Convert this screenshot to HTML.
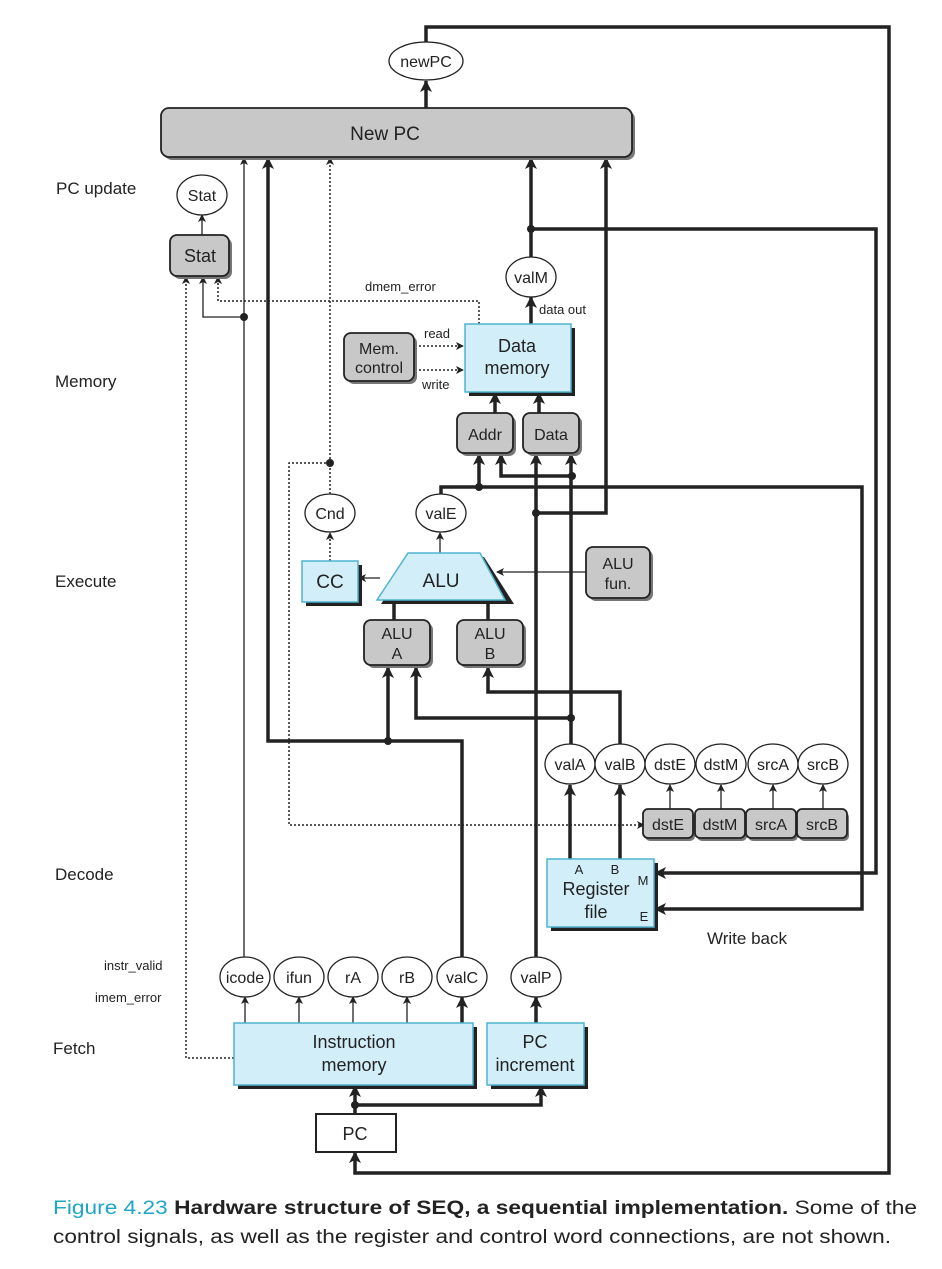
<!DOCTYPE html>
<html><head><meta charset="utf-8"><style>
html,body{margin:0;padding:0;background:#fff;}
svg{display:block;font-family:"Liberation Sans",Arial,sans-serif;}
</style></head><body>
<svg width="942" height="1269" viewBox="0 0 942 1269" xmlns="http://www.w3.org/2000/svg">
<defs>
<marker id="a" markerWidth="8" markerHeight="8" refX="7" refY="4" orient="auto" markerUnits="userSpaceOnUse"><path d="M0,0 L8,4 L0,8 L2,4z" fill="#222"/></marker>
<marker id="b" markerWidth="12" markerHeight="12" refX="11" refY="6" orient="auto" markerUnits="userSpaceOnUse"><path d="M0,0 L12,6 L0,12 L3,6z" fill="#222"/></marker>
</defs>
<rect width="942" height="1269" fill="#fff"/>
<g fill="none" stroke="#222">
<!-- loop -->
<polyline points="426,80 426,27 889,27 889,1173 355,1173 355,1152" stroke-width="3.5" marker-end="url(#b)"/>
<line x1="426" y1="108" x2="426" y2="81" stroke-width="3.5" marker-end="url(#b)"/>
<!-- into New PC -->
<line x1="244" y1="957" x2="244" y2="158" stroke-width="1.3" marker-end="url(#a)"/>
<polyline points="462,957 462,741 268,741 268,158" stroke-width="3.5" marker-end="url(#b)"/>
<line x1="330" y1="463" x2="330" y2="158" stroke-width="1.5" stroke-dasharray="2,2" marker-end="url(#a)"/>
<line x1="531" y1="258" x2="531" y2="158" stroke-width="3.5" marker-end="url(#b)"/>
<polyline points="536,513 606,513 606,158" stroke-width="3.5" marker-end="url(#b)"/>
<!-- stat -->
<line x1="202" y1="235" x2="202" y2="215" stroke-width="1.3" marker-end="url(#a)"/>
<polyline points="244,317 203,317 203,277" stroke-width="1.3" marker-end="url(#a)"/>
<polyline points="234,1058 186,1058 186,277" stroke-width="1.5" stroke-dasharray="2,2" marker-end="url(#a)"/>
<polyline points="479,324 479,301 218,301 218,277" stroke-width="1.5" stroke-dasharray="2,2" marker-end="url(#a)"/>
<!-- valM -->
<line x1="531" y1="324" x2="531" y2="297" stroke-width="3.5" marker-end="url(#b)"/>
<polyline points="531,229 876,229 876,873 655,873" stroke-width="3.5" marker-end="url(#b)"/>
<!-- mem control -->
<line x1="415" y1="346" x2="463" y2="346" stroke-width="1.5" stroke-dasharray="2,2" marker-end="url(#a)"/>
<line x1="415" y1="370" x2="463" y2="370" stroke-width="1.5" stroke-dasharray="2,2" marker-end="url(#a)"/>
<!-- addr/data -->
<line x1="495" y1="413" x2="495" y2="393" stroke-width="3.5" marker-end="url(#b)"/>
<line x1="539" y1="413" x2="539" y2="393" stroke-width="3.5" marker-end="url(#b)"/>
<polyline points="441,494 441,487 862,487 862,909 655,909" stroke-width="3.5" marker-end="url(#b)"/>
<line x1="479" y1="487" x2="479" y2="454" stroke-width="3.5" marker-end="url(#b)"/>
<polyline points="572,476 501,476 501,454" stroke-width="3.5" marker-end="url(#b)"/>
<line x1="536" y1="957" x2="536" y2="454" stroke-width="3.5" marker-end="url(#b)"/>
<line x1="571" y1="744" x2="571" y2="454" stroke-width="3.5" marker-end="url(#b)"/>
<!-- ALU -->
<line x1="440" y1="553" x2="440" y2="533" stroke-width="1.3" marker-end="url(#a)"/>
<line x1="380" y1="578" x2="359" y2="578" stroke-width="1.3" marker-end="url(#a)"/>
<line x1="586" y1="572" x2="497" y2="572" stroke-width="1.3" marker-end="url(#a)"/>
<line x1="330" y1="561" x2="330" y2="533" stroke-width="1.5" stroke-dasharray="2,2" marker-end="url(#a)"/>
<line x1="330" y1="494" x2="330" y2="463" stroke-width="1.5" stroke-dasharray="2,2"/>
<polyline points="330,463 289,463 289,825 644,825" stroke-width="1.5" stroke-dasharray="2,2" marker-end="url(#a)"/>
<line x1="394" y1="601" x2="394" y2="620" stroke-width="3.5"/>
<line x1="488" y1="601" x2="488" y2="620" stroke-width="3.5"/>
<line x1="388" y1="741" x2="388" y2="667" stroke-width="3.5" marker-end="url(#b)"/>
<polyline points="571,718 416,718 416,667" stroke-width="3.5" marker-end="url(#b)"/>
<polyline points="620,744 620,692 488,692 488,667" stroke-width="3.5" marker-end="url(#b)"/>
<!-- register -->
<line x1="570" y1="859" x2="570" y2="785" stroke-width="3.5" marker-end="url(#b)"/>
<line x1="620" y1="859" x2="620" y2="785" stroke-width="3.5" marker-end="url(#b)"/>
<line x1="670" y1="809" x2="670" y2="785" stroke-width="1.3" marker-end="url(#a)"/>
<line x1="721" y1="809" x2="721" y2="785" stroke-width="1.3" marker-end="url(#a)"/>
<line x1="773" y1="809" x2="773" y2="785" stroke-width="1.3" marker-end="url(#a)"/>
<line x1="823" y1="809" x2="823" y2="785" stroke-width="1.3" marker-end="url(#a)"/>
<!-- fetch -->
<line x1="245" y1="1023" x2="245" y2="997" stroke-width="1.3" marker-end="url(#a)"/>
<line x1="299" y1="1023" x2="299" y2="997" stroke-width="1.3" marker-end="url(#a)"/>
<line x1="353" y1="1023" x2="353" y2="997" stroke-width="1.3" marker-end="url(#a)"/>
<line x1="407" y1="1023" x2="407" y2="997" stroke-width="1.3" marker-end="url(#a)"/>
<line x1="462" y1="1023" x2="462" y2="997" stroke-width="3.5" marker-end="url(#b)"/>
<line x1="536" y1="1023" x2="536" y2="997" stroke-width="3.5" marker-end="url(#b)"/>
<line x1="355" y1="1114" x2="355" y2="1086" stroke-width="3.5" marker-end="url(#b)"/>
<polyline points="355,1105 541,1105 541,1086" stroke-width="3.5" marker-end="url(#b)"/>
</g>
<!-- junction dots -->
<g fill="#222">
<circle cx="244" cy="317" r="4"/><circle cx="531" cy="229" r="4"/><circle cx="330" cy="463" r="4"/>
<circle cx="479" cy="487" r="4"/><circle cx="572" cy="476" r="4"/><circle cx="536" cy="513" r="4"/>
<circle cx="571" cy="718" r="4"/><circle cx="388" cy="741" r="4"/><circle cx="355" cy="1105" r="4"/>
</g>
<!-- gray boxes -->
<g stroke="#222" stroke-width="1.8">
<rect x="164" y="111" width="471" height="49" rx="8" fill="#777" stroke="none"/>
<rect x="161" y="108" width="471" height="49" rx="8" fill="#c8c8c8"/>
<rect x="173" y="238" width="59" height="41" rx="7" fill="#777" stroke="none"/>
<rect x="170" y="235" width="59" height="41" rx="7" fill="#c8c8c8"/>
<rect x="347" y="336" width="70" height="48" rx="7" fill="#777" stroke="none"/>
<rect x="344" y="333" width="70" height="48" rx="7" fill="#c8c8c8"/>
<rect x="460" y="416" width="56" height="40" rx="7" fill="#777" stroke="none"/>
<rect x="457" y="413" width="56" height="40" rx="7" fill="#c8c8c8"/>
<rect x="526" y="416" width="56" height="40" rx="7" fill="#777" stroke="none"/>
<rect x="523" y="413" width="56" height="40" rx="7" fill="#c8c8c8"/>
<rect x="589" y="550" width="64" height="51" rx="7" fill="#777" stroke="none"/>
<rect x="586" y="547" width="64" height="51" rx="7" fill="#c8c8c8"/>
<rect x="367" y="623" width="66" height="45" rx="7" fill="#777" stroke="none"/>
<rect x="364" y="620" width="66" height="45" rx="7" fill="#c8c8c8"/>
<rect x="460" y="623" width="66" height="45" rx="7" fill="#777" stroke="none"/>
<rect x="457" y="620" width="66" height="45" rx="7" fill="#c8c8c8"/>
<rect x="645" y="812" width="50" height="29" rx="5" fill="#777" stroke="none"/>
<rect x="697" y="812" width="50" height="29" rx="5" fill="#777" stroke="none"/>
<rect x="748" y="812" width="50" height="29" rx="5" fill="#777" stroke="none"/>
<rect x="799" y="812" width="50" height="29" rx="5" fill="#777" stroke="none"/>
<rect x="643" y="809" width="50" height="29" rx="5" fill="#c8c8c8"/>
<rect x="695" y="809" width="50" height="29" rx="5" fill="#c8c8c8"/>
<rect x="746" y="809" width="50" height="29" rx="5" fill="#c8c8c8"/>
<rect x="797" y="809" width="50" height="29" rx="5" fill="#c8c8c8"/>
</g>
<!-- blue boxes -->
<g stroke="#4fb3cf" stroke-width="1.5" fill="#d2eff9">
<rect x="469" y="328" width="106" height="68" fill="#222" stroke="none"/>
<rect x="465" y="324" width="106" height="68"/>
<rect x="306" y="565" width="56" height="41" fill="#222" stroke="none"/>
<rect x="302" y="561" width="56" height="41"/>
<polygon points="412,557 484,557 514,604 381,604" fill="#222" stroke="none"/>
<polygon points="408,553 480,553 505,600 377,600"/>
<rect x="551" y="863" width="107" height="68" fill="#222" stroke="none"/>
<rect x="547" y="859" width="107" height="68"/>
<rect x="238" y="1027" width="239" height="62" fill="#222" stroke="none"/>
<rect x="234" y="1023" width="239" height="62"/>
<rect x="491" y="1027" width="97" height="62" fill="#222" stroke="none"/>
<rect x="487" y="1023" width="97" height="62"/>
</g>
<rect x="316" y="1114" width="80" height="38" fill="#fff" stroke="#222" stroke-width="2"/>
<!-- ellipses -->
<g fill="#fff" stroke="#222" stroke-width="1.3">
<ellipse cx="426" cy="61" rx="37" ry="19"/>
<ellipse cx="202" cy="195" rx="25" ry="20"/>
<ellipse cx="531" cy="277" rx="25" ry="20"/>
<ellipse cx="330" cy="513" rx="25" ry="19"/>
<ellipse cx="441" cy="513" rx="25" ry="19"/>
<ellipse cx="570" cy="764" rx="25" ry="20"/>
<ellipse cx="620" cy="764" rx="25" ry="20"/>
<ellipse cx="670" cy="764" rx="25" ry="20"/>
<ellipse cx="721" cy="764" rx="25" ry="20"/>
<ellipse cx="773" cy="764" rx="25" ry="20"/>
<ellipse cx="823" cy="764" rx="25" ry="20"/>
<ellipse cx="245" cy="977" rx="25" ry="20"/>
<ellipse cx="299" cy="977" rx="25" ry="20"/>
<ellipse cx="353" cy="977" rx="25" ry="20"/>
<ellipse cx="407" cy="977" rx="25" ry="20"/>
<ellipse cx="462" cy="977" rx="25" ry="20"/>
<ellipse cx="536" cy="977" rx="25" ry="20"/>
</g>
<g fill="#222" font-size="17" text-anchor="middle">
<text x="426" y="67" font-size="16">newPC</text>
<text x="385" y="140" font-size="19">New PC</text>
<text x="202" y="201" font-size="16">Stat</text>
<text x="200" y="262" font-size="18">Stat</text>
<text x="531" y="283" font-size="16">valM</text>
<text x="379" y="354" font-size="16">Mem.</text>
<text x="379" y="373" font-size="16">control</text>
<text x="517" y="352" font-size="18">Data</text>
<text x="517" y="374" font-size="18">memory</text>
<text x="485" y="440" font-size="16">Addr</text>
<text x="551" y="440" font-size="16">Data</text>
<text x="330" y="519" font-size="16">Cnd</text>
<text x="441" y="519" font-size="16">valE</text>
<text x="330" y="588" font-size="19">CC</text>
<text x="441" y="587" font-size="19">ALU</text>
<text x="618" y="569" font-size="16">ALU</text>
<text x="618" y="589" font-size="16">fun.</text>
<text x="397" y="639" font-size="16">ALU</text>
<text x="397" y="659" font-size="16">A</text>
<text x="490" y="639" font-size="16">ALU</text>
<text x="490" y="659" font-size="16">B</text>
<text x="570" y="770" font-size="16">valA</text>
<text x="620" y="770" font-size="16">valB</text>
<text x="670" y="770" font-size="16">dstE</text>
<text x="721" y="770" font-size="16">dstM</text>
<text x="773" y="770" font-size="16">srcA</text>
<text x="823" y="770" font-size="16">srcB</text>
<text x="668" y="830" font-size="16">dstE</text>
<text x="720" y="830" font-size="16">dstM</text>
<text x="771" y="830" font-size="16">srcA</text>
<text x="822" y="830" font-size="16">srcB</text>
<text x="579" y="874" font-size="13">A</text>
<text x="615" y="874" font-size="13">B</text>
<text x="643" y="885" font-size="13">M</text>
<text x="644" y="921" font-size="13">E</text>
<text x="596" y="895" font-size="18">Register</text>
<text x="596" y="918" font-size="18">file</text>
<text x="747" y="944" font-size="17">Write back</text>
<text x="245" y="983" font-size="16">icode</text>
<text x="299" y="983" font-size="16">ifun</text>
<text x="353" y="983" font-size="16">rA</text>
<text x="407" y="983" font-size="16">rB</text>
<text x="462" y="983" font-size="16">valC</text>
<text x="536" y="983" font-size="16">valP</text>
<text x="354" y="1048" font-size="18">Instruction</text>
<text x="354" y="1071" font-size="18">memory</text>
<text x="535" y="1048" font-size="18">PC</text>
<text x="535" y="1071" font-size="18">increment</text>
<text x="355" y="1140" font-size="18">PC</text>
</g>
<g fill="#222" font-size="13">
<text x="365" y="291">dmem_error</text>
<text x="539" y="314">data out</text>
<text x="424" y="338">read</text>
<text x="422" y="389">write</text>
<text x="104" y="970">instr_valid</text>
<text x="95" y="1002">imem_error</text>
</g>
<g fill="#222" font-size="17">
<text x="56" y="194">PC update</text>
<text x="55" y="387">Memory</text>
<text x="55" y="587">Execute</text>
<text x="55" y="880">Decode</text>
<text x="53" y="1054">Fetch</text>
</g>
<text x="53" y="1214" font-size="19" fill="#222" textLength="864" lengthAdjust="spacingAndGlyphs"><tspan fill="#1ea5c8">Figure 4.23</tspan><tspan font-weight="bold">  Hardware structure of SEQ, a sequential implementation.</tspan> Some of the</text>
<text x="53" y="1243" font-size="19" fill="#222" textLength="838" lengthAdjust="spacingAndGlyphs">control signals, as well as the register and control word connections, are not shown.</text>
</svg>
</body></html>
